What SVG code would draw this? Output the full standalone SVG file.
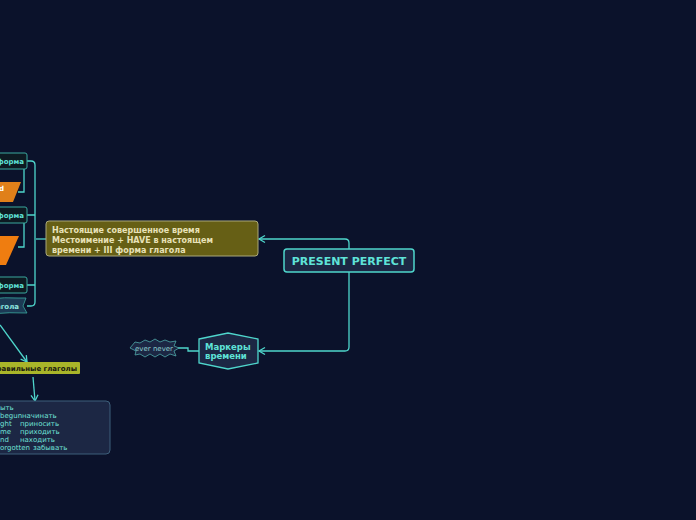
<svg xmlns="http://www.w3.org/2000/svg" width="696" height="520" viewBox="0 0 696 520">
<defs>
<style>
.c{fill:none;stroke:#4fd6cc;stroke-width:1.3}
.t{font-family:"DejaVu Sans",sans-serif;font-weight:bold}
.s{font-family:"DejaVu Sans",sans-serif;font-size:7px;fill:#6fe0d6}
</style>
<marker id="a" markerWidth="10" markerHeight="10" refX="7" refY="4" orient="auto" markerUnits="userSpaceOnUse" overflow="visible"><path d="M1,0.5 L7,4 L1,7.5" fill="none" stroke="#4fd6cc" stroke-width="1.3"/></marker>
</defs>
<rect width="696" height="520" fill="#0b122b"/>
<g id="connectors">
<path class="c" d="M349,249 V243 Q349,239 345,239 H259" marker-end="url(#a)"/>
<path class="c" d="M349,272 V347 Q349,351 345,351 H259" marker-end="url(#a)"/>
<path class="c" d="M178,348 H188 V351 H199"/>
<path class="c" d="M46,239 H36"/>
<path class="c" d="M27,161 H31 Q35,161 35,165 V302 Q35,306 31,306 H27"/>
<path class="c" d="M27,215 H35 M27,285 H35"/>
<path class="c" d="M24,169 V192 H18 M24,223 V247 H18"/>
<path class="c" d="M0,325 L27,362" marker-end="url(#a)" stroke-width="1"/>
<path class="c" d="M33,377 L35,401" marker-end="url(#a)" stroke-width="1"/>
</g>
<g id="pp"><rect x="284" y="249" width="130" height="23" rx="3" fill="#1c2744" stroke="#4fd6cc" stroke-width="1.5"/><text class="t" x="349" y="265" text-anchor="middle" font-size="11" fill="#5fe3d8">PRESENT PERFECT</text></g>
<g id="olive"><rect x="46" y="221" width="212" height="35" rx="3" fill="#665f15" stroke="#aaa87a" stroke-width="1"/><text class="t" font-size="8" fill="#e8e2b8"><tspan x="52" y="233">Настоящие совершенное время</tspan><tspan x="52" y="243">Местоимение + HAVE в настоящем</tspan><tspan x="52" y="253">времени + III форма глагола</tspan></text></g>
<g id="markers"><path d="M199,339 L228,333 L258,339 V363 L228,369 L199,363 Z" fill="#1c2744" stroke="#4fd6cc" stroke-width="1.3"/><text class="t" font-size="8.5" fill="#5fe3d8"><tspan x="205" y="350">Маркеры</tspan><tspan x="205" y="359">времени</tspan></text></g>
<g id="ever"><path d="M130,348 L135,342 L140,343 L145,340 L150,342 L155,339 L160,342 L165,340 L170,342 L176,341 L174,346 L179,348 L174,351 L176,356 L170,354 L165,357 L160,354 L155,357 L150,354 L145,357 L140,354 L135,355 L136,351 Z" fill="#1c2744" stroke="#4fa8a8" stroke-width="0.8"/><text x="154" y="351" text-anchor="middle" font-family="DejaVu Sans,sans-serif" font-size="7" fill="#8fd0d0">ever never</text></g>
<g id="f1"><rect x="-10" y="153" width="37" height="16" rx="2" fill="#0d1a22" stroke="#3aa89e"/><text class="t" x="24" y="164" text-anchor="end" font-size="7" fill="#5fe3d8">форма</text></g>
<g id="o1"><path d="M-10,182 H21 L13,202 H-10 Z" fill="#e0801a"/><text class="t" x="-1" y="191" font-size="7" fill="#fff">d</text></g>
<g id="f2"><rect x="-10" y="207" width="37" height="16" rx="2" fill="#0d1a22" stroke="#3aa89e"/><text class="t" x="24" y="218" text-anchor="end" font-size="7" fill="#5fe3d8">форма</text></g>
<g id="o2"><path d="M-10,236 H19 L6,265 H-10 Z" fill="#ef7d10"/></g>
<g id="f3"><rect x="-10" y="277" width="37" height="16" rx="2" fill="#0d1a22" stroke="#3aa89e"/><text class="t" x="24" y="288" text-anchor="end" font-size="7" fill="#5fe3d8">форма</text></g>
<g id="gl"><path d="M-10,299 Q5,297 18,298 L26,298 L23,306 L27,313 Q10,312 -10,314 Z" fill="#1c3a55" stroke="#3aa89e" stroke-width="0.8"/><text class="t" x="19" y="309" text-anchor="end" font-size="7" fill="#8fe8e0">агола</text></g>
<g id="irr"><rect x="-10" y="362" width="90" height="12" rx="1" fill="#a9b529"/><text class="t" x="77" y="371" text-anchor="end" font-size="7" fill="#1a1a10">правильные глаголы</text></g>
<g id="list"><rect x="-10" y="401" width="120" height="53" rx="4" fill="#1c2744" stroke="#3d5f7a"/><text class="s"><tspan x="0" y="410">ыть</tspan><tspan x="0" y="418">begun</tspan><tspan x="22" y="418">начинать</tspan><tspan x="0" y="426">ght</tspan><tspan x="20" y="426">приносить</tspan><tspan x="0" y="434">me</tspan><tspan x="20" y="434">приходить</tspan><tspan x="0" y="442">nd</tspan><tspan x="20" y="442">находить</tspan><tspan x="0" y="450">orgotten</tspan><tspan x="33" y="450">забывать</tspan></text></g>
</svg>
